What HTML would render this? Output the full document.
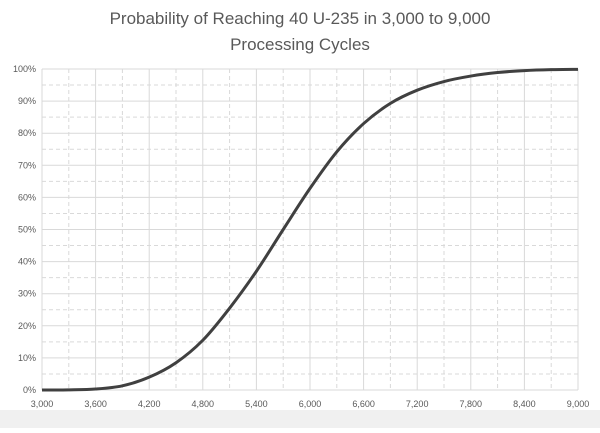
<!DOCTYPE html>
<html><head><style>
body{margin:0;background:#fff;width:600px;height:428px;overflow:hidden;font-family:"Liberation Sans",sans-serif}
</style></head><body>
<svg id="s" width="600" height="428" xmlns="http://www.w3.org/2000/svg">
<rect x="0" y="410" width="600" height="18" fill="#f0f0f0"/>
<text x="300" y="24" text-anchor="middle" font-size="17" fill="#595959">Probability of Reaching 40 U-235 in 3,000 to 9,000</text>
<text x="300" y="50" text-anchor="middle" font-size="17" fill="#595959">Processing Cycles</text>
<g id="g"></g>
<path id="c" fill="none" stroke="#404040" stroke-width="3"/>
</svg>
<script>
const g=document.getElementById('g');
const X0=42,X1=578,Y0=390,Y1=69;
const px=v=>X0+(v-3000)/6000*(X1-X0), py=p=>Y0-p*(Y0-Y1);
let h='';
for(let i=0;i<=20;i++){const y=py(i/20);const maj=i%2==0;
h+=`<line x1="${X0}" x2="${X1}" y1="${y}" y2="${y}" stroke="#d9d9d9" stroke-width="1" ${maj?'':'stroke-dasharray="4,3"'}/>`;
if(maj)h+=`<text x="${X0-6}" y="${y+3}" text-anchor="end" font-size="9" fill="#595959">${i*5}%</text>`;}
for(let i=0;i<=20;i++){const x=px(3000+i*300);const maj=i%2==0;
h+=`<line x1="${x}" x2="${x}" y1="${Y1}" y2="${Y0}" stroke="#d9d9d9" stroke-width="1" ${maj?'':'stroke-dasharray="4,3"'}/>`;
if(maj)h+=`<text x="${x}" y="${Y0+17}" text-anchor="middle" font-size="9" fill="#595959">${(3000+i*300).toLocaleString('en-US')}</text>`;}
g.innerHTML=h;
const pts=[[3000,0],[3300,0.0005],[3600,0.003],[3900,0.013],[4200,0.04],[4500,0.085],[4800,0.155],[5100,0.255],[5400,0.37],[5700,0.5],[6000,0.628],[6300,0.742],[6600,0.83],[6900,0.893],[7200,0.934],[7500,0.961],[7800,0.978],[8100,0.989],[8400,0.995],[8700,0.998],[9000,0.999]].map(p=>[px(p[0]),py(p[1])]);
let d=`M${pts[0][0]},${pts[0][1]}`;
for(let i=0;i<pts.length-1;i++){const p0=pts[Math.max(0,i-1)],p1=pts[i],p2=pts[i+1],p3=pts[Math.min(pts.length-1,i+2)];
d+=` C${p1[0]+(p2[0]-p0[0])/6},${p1[1]+(p2[1]-p0[1])/6} ${p2[0]-(p3[0]-p1[0])/6},${p2[1]-(p3[1]-p1[1])/6} ${p2[0]},${p2[1]}`;}
document.getElementById('c').setAttribute('d',d);
</script>
</body></html>
